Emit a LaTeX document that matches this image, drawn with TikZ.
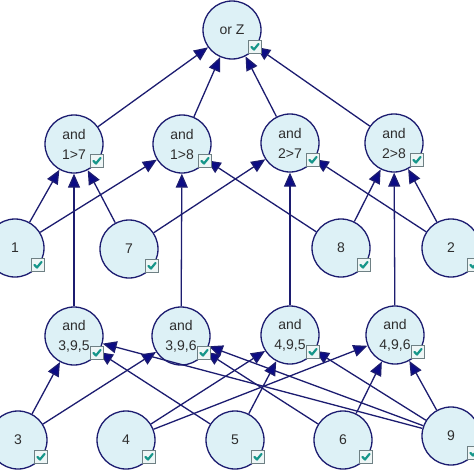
\documentclass[tikz,border=0pt]{standalone}
\usepackage{fontspec}
\setmainfont{Liberation Sans}
\usetikzlibrary{arrows.meta,calc}
\definecolor{nodefill}{HTML}{DDF1F6}
\definecolor{navy}{HTML}{1C1C70}
\definecolor{arrowc}{HTML}{0C0C85}
\definecolor{txt}{HTML}{2E2E2E}
\definecolor{boxline}{HTML}{6E8084}
\definecolor{boxfill}{HTML}{EEF6F6}
\definecolor{tick}{HTML}{17968A}
\tikzset{
  gate/.style={circle, draw=navy, line width=1.3pt, fill=nodefill, minimum size=58pt,
    inner sep=0pt, align=center, text=txt, font=\fontsize{14}{20}\selectfont},
  edge/.style={draw=navy, line width=1.3pt, -{Triangle[length=14pt,width=12pt,fill=arrowc]}},
  chkbox/.style={draw=boxline, line width=0.8pt, fill=boxfill, minimum size=13pt, inner sep=0pt,
    path picture={\draw[tick, line width=2.2pt, line cap=round, line join=round]
      ([shift={(-3.5,0)}]path picture bounding box.center) -- ++(2.5,2.5) -- ++(4.5,-5.5);}}
}
\newcommand{\chk}[1]{\node[chkbox] (#1-c) at ($(#1)+(23,17)$) {};}
\begin{document}
\begin{tikzpicture}[x=1pt,y=-1pt]
\useasboundingbox[fill=white] (0,0) rectangle (474,474);
% nodes
\node[gate] (z) at (232,30) {or Z};
\node[gate] (a17) at (74,144) {and\\1>7};
\node[gate] (a18) at (182,144) {and\\1>8};
\node[gate] (a27) at (290,143) {and\\2>7};
\node[gate] (a28) at (394,143) {and\\2>8};
\node[gate] (n1) at (15,248) {1};
\node[gate] (n7) at (129,249) {7};
\node[gate] (n8) at (341,248) {8};
\node[gate] (n2) at (451,248) {2};
\node[gate] (b395) at (74,336) {and\\3,9,5};
\node[gate] (b396) at (181,336) {and\\3,9,6};
\node[gate] (b495) at (290,335) {and\\4,9,5};
\node[gate] (b496) at (395,335) {and\\4,9,6};
\node[gate] (n3) at (18,440) {3};
\node[gate] (n4) at (126,440) {4};
\node[gate] (n5) at (235,440) {5};
\node[gate] (n6) at (343,440) {6};
\node[gate] (n9) at (451,436) {9};
% edges
\foreach \s in {a17,a18,a27,a28} \draw[edge] (\s) -- (z);
\draw[edge] (n1) -- (a17);
\draw[edge] (b395) -- (a17);
\draw[edge] (n7) -- (a17);
\draw[edge] (n1) -- (a18);
\draw[edge] (b396) -- (a18);
\draw[edge] (n8) -- (a18);
\draw[edge] (n7) -- (a27);
\draw[edge] (b495) -- (a27);
\draw[edge] (n2) -- (a27);
\draw[edge] (n8) -- (a28);
\draw[edge] (b496) -- (a28);
\draw[edge] (n2) -- (a28);
\draw[edge] (n3) -- (b395);
\draw[edge] (n5) -- (b395);
\draw[edge] (n9) -- (b395);
\draw[edge] (n3) -- (b396);
\draw[edge] (n6) -- (b396);
\draw[edge] (n9) -- (b396);
\draw[edge] (n4) -- (b495);
\draw[edge] (n5) -- (b495);
\draw[edge] (n9) -- (b495);
\draw[edge] (n4) -- (b496);
\draw[edge] (n6) -- (b496);
\draw[edge] (n9) -- (b496);
% checkboxes
\foreach \n in {z,a17,a18,a27,a28,n1,n7,n8,n2,b395,b396,b495,b496,n3,n4,n5,n6,n9} {\chk{\n}}
\end{tikzpicture}
\end{document}
